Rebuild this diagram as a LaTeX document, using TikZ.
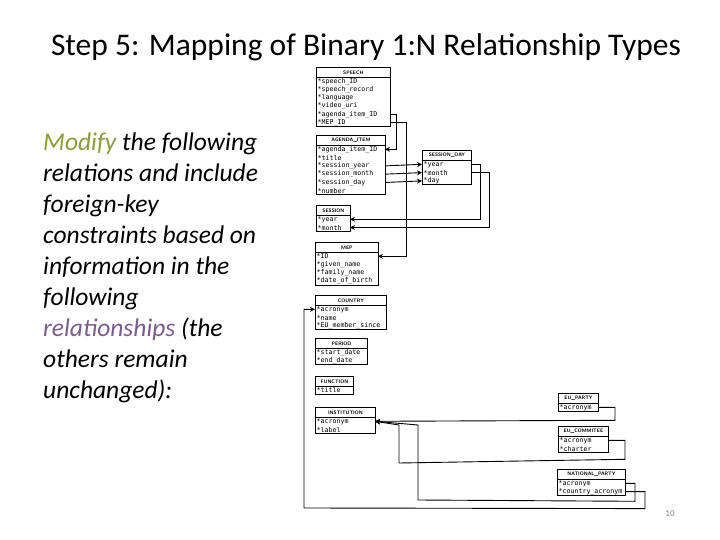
\documentclass[tikz,border=0pt]{standalone}
\usepackage{fontspec}
\setmainfont{Carlito}
\setmonofont{DejaVu Sans Mono}
\usetikzlibrary{arrows.meta,calc}
\definecolor{olive}{HTML}{8C9A3C}
\definecolor{purp}{HTML}{7A5C8C}
\tikzset{
  tbox/.style={draw,line width=0.9pt,anchor=north west,inner sep=0pt},
  ttitle/.style={font=\sffamily\bfseries\fontsize{5}{6}\selectfont,inner sep=0pt},
  trow/.style={font=\ttfamily\fontsize{6.6}{7}\selectfont,anchor=west,inner sep=0pt},
  fk/.style={line width=0.9pt,-{Stealth[length=5pt,width=5pt]}},
  body/.style={font=\itshape\fontsize{25.5}{31}\selectfont,anchor=north west,align=left,inner sep=0pt}
}
% name, x, y, width, title, rows
\newcommand\mktable[6]{%
  \node[tbox,minimum width=#4pt,minimum height=10pt] (#1) at (#2,#3) {};
  \node[ttitle] (#1-t) at ($(#1.center)$) {#5};
  \foreach \r [count=\i] in {#6}{
    \node[trow] (#1-r\i) at (#2+1.5,#3+10+8.3*\i-4) {\r};
    \coordinate (#1-\i) at (#2+#4,#3+10+8.3*\i-4);
    \coordinate (#1-L\i) at (#2,#3+10+8.3*\i-4);
    \coordinate (#1-bot) at (#2,#3+10+8.3*\i);
  }
  \draw[line width=0.9pt] (#2,#3) rectangle (#1-bot -| {#2+#4,0});
}
\begin{document}
\begin{tikzpicture}[x=1pt,y=-1pt]
\useasboundingbox (0,0) rectangle (720,540);
\node (title) at (366,47) {\fontsize{31.5}{36}\selectfont Step 5: Mapping of Binary 1:N Relationship Types};
\node[body] (txt) at (43,133) {\textcolor{olive}{Modify} the following\\relations and include\\foreign-key\\constraints based on\\information in the\\following\\\textcolor{purp}{relationships} (the\\others remain\\unchanged):};
\node[text=gray] (pg) at (670,514) {\fontsize{9}{10}\selectfont 10};

\mktable{speech}{316}{67}{74}{SPEECH}{*speech\_ID,*speech\_record,*language,*video\_uri,*agenda\_item\_ID,*MEP\_ID}
\mktable{agenda}{316}{135}{69}{AGENDA\_ITEM}{*agenda\_item\_ID,*title,*session\_year,*session\_month,*session\_day,*number}
\mktable{sday}{422}{150}{49}{SESSION\_DAY}{*year,*month,*day}
\mktable{session}{316}{205}{34}{SESSION}{*year,*month}
\mktable{mep}{315}{242}{63}{MEP}{*ID,*given\_name,*family\_name,*date\_of\_birth}
\mktable{country}{315}{295}{71}{COUNTRY}{*acronym,*name,*EU\_member\_since}
\mktable{period}{315}{338}{52}{PERIOD}{*start\_date,*end\_date}
\mktable{function}{315}{376}{38}{FUNCTION}{*title}
\mktable{inst}{315}{407}{60}{INSTITUTION}{*acronym,*label}
\mktable{euparty}{558}{393}{40}{EU\_PARTY}{*acronym}
\mktable{eucom}{558}{426}{50}{EU\_COMMITEE}{*acronym,*charter}
\mktable{natparty}{557}{469}{68}{NATIONAL\_PARTY}{*acronym,*country\_acronym}

\draw[fk] (speech-5) -- ++(6,0) |- (agenda-1);
\draw[fk] (speech-6) -- ++(16,0) |- (mep-1);
\draw[fk] (agenda-3) -- (sday-L1);
\draw[fk] (agenda-4) -- (sday-L2);
\draw[fk] (agenda-5) -- (sday-L3);
\draw[fk] (sday-1) -- ++(9,0) |- (session-1);
\draw[fk] (sday-2) -- ++(18,0) |- (session-2);
\draw[fk] (euparty-1) -- ++(17,0) -- ++(0,13) -- (inst-1);
\draw[fk] (eucom-1) -- ++(17,0) -- ++(0,19) -- (399,463) -- (399,425) -- (inst-1);
\draw[fk] (natparty-1) -- ++(10,0) -- ++(0,18) -- (418,500) -- (418,425) -- (inst-1);
\draw[fk] (natparty-2) -- ++(20,0) -- ++(0,17) -- (304,508) |- (country-L1);
\end{tikzpicture}
\end{document}
